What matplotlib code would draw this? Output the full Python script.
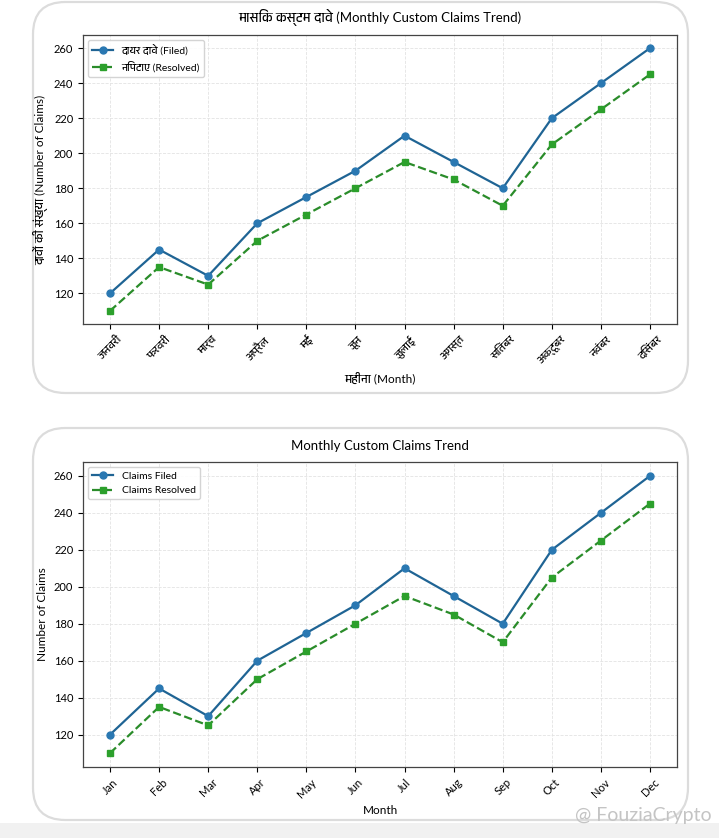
import matplotlib.pyplot as plt
from matplotlib import font_manager
from matplotlib.patches import FancyBboxPatch, Rectangle

# look for any installed family that carries Devanagari glyphs
fams = ['Lato']
for f in font_manager.fontManager.ttflist:
    if 'Devanagari' in f.name or 'Lohit' in f.name or 'Mukta' in f.name:
        if f.name not in fams:
            fams.append(f.name)
fams.append('DejaVu Sans')
plt.rcParams['font.family'] = fams

# data
months_en = ['Jan', 'Feb', 'Mar', 'Apr', 'May', 'Jun',
             'Jul', 'Aug', 'Sep', 'Oct', 'Nov', 'Dec']
months_hi = ['जनवरी', 'फरवरी', 'मार्च', 'अप्रैल', 'मई', 'जून',
             'जुलाई', 'अगस्त', 'सितंबर', 'अक्टूबर', 'नवंबर', 'दिसंबर']
claims_filed = [120, 145, 130, 160, 175, 190, 210, 195, 180, 220, 240, 260]
claims_resolved = [110, 135, 125, 150, 165, 180, 195, 185, 170, 205, 225, 245]

W, H = 719, 838
fig = plt.figure(figsize=(W / 100, H / 100), dpi=100)
fig.patch.set_facecolor('white')


def px_axes(left, top, right, bottom):
    return fig.add_axes([left / W, 1 - bottom / H, (right - left) / W, (bottom - top) / H],
                        zorder=5)


# page background band + rounded panels
fig.patches.append(Rectangle((0, 0), 1, 15 / H, transform=fig.transFigure,
                             facecolor='#f1f1f1', edgecolor='none', zorder=-10))
for top, bottom in [(2, 393), (428, 820)]:
    box = FancyBboxPatch((33 / W, 1 - bottom / H), 655 / W, (bottom - top) / H,
                         boxstyle='round,pad=0,rounding_size=0.045',
                         transform=fig.transFigure, facecolor='white',
                         edgecolor='#dcdcdc', linewidth=1.6, zorder=-5,
                         mutation_aspect=W / H)
    fig.patches.append(box)


def draw(ax, labels, title, xlabel, ylabel, lab_filed, lab_resolved):
    x = range(len(labels))
    ax.plot(x, claims_filed, '-o', color='#1f6494', markerfacecolor='#2a78b2',
            markeredgecolor='#2a78b2', markersize=5, linewidth=1.6, label=lab_filed)
    ax.plot(x, claims_resolved, '--s', color='#2a8c2a', markerfacecolor='#2ca02c',
            markeredgecolor='#2ca02c', markersize=5, linewidth=1.6, label=lab_resolved)
    ax.set_xticks(list(x))
    ax.set_xticklabels(labels, rotation=45, fontsize=8)
    ax.tick_params(axis='y', labelsize=8)
    ax.set_title(title, fontsize=9.5, pad=9)
    ax.set_xlabel(xlabel, fontsize=8.5)
    ax.set_ylabel(ylabel, fontsize=8.5)
    ax.grid(True, linestyle='--', linewidth=0.6, color='#e3e3e3')
    for s in ax.spines.values():
        s.set_color('#444444')
        s.set_linewidth(0.9)
    ax.legend(loc='upper left', fontsize=7.5, framealpha=0.9, edgecolor='#d0d0d0')


ax1 = px_axes(83, 35, 677, 324)
draw(ax1, months_hi, 'मासिक कस्टम दावे (Monthly Custom Claims Trend)',
     'महीना (Month)', 'दावों की संख्या (Number of Claims)',
     'दायर दावे (Filed)', 'निपटाए (Resolved)')

ax2 = px_axes(83, 462, 677, 767)
draw(ax2, months_en, 'Monthly Custom Claims Trend', 'Month', 'Number of Claims',
     'Claims Filed', 'Claims Resolved')

fig.text(712 / W, 1 - 815 / H, '@ FouziaCrypto', ha='right', va='center',
         fontsize=14, color='#c4c4c4', zorder=6)

fig.savefig('out.png', dpi=100)
